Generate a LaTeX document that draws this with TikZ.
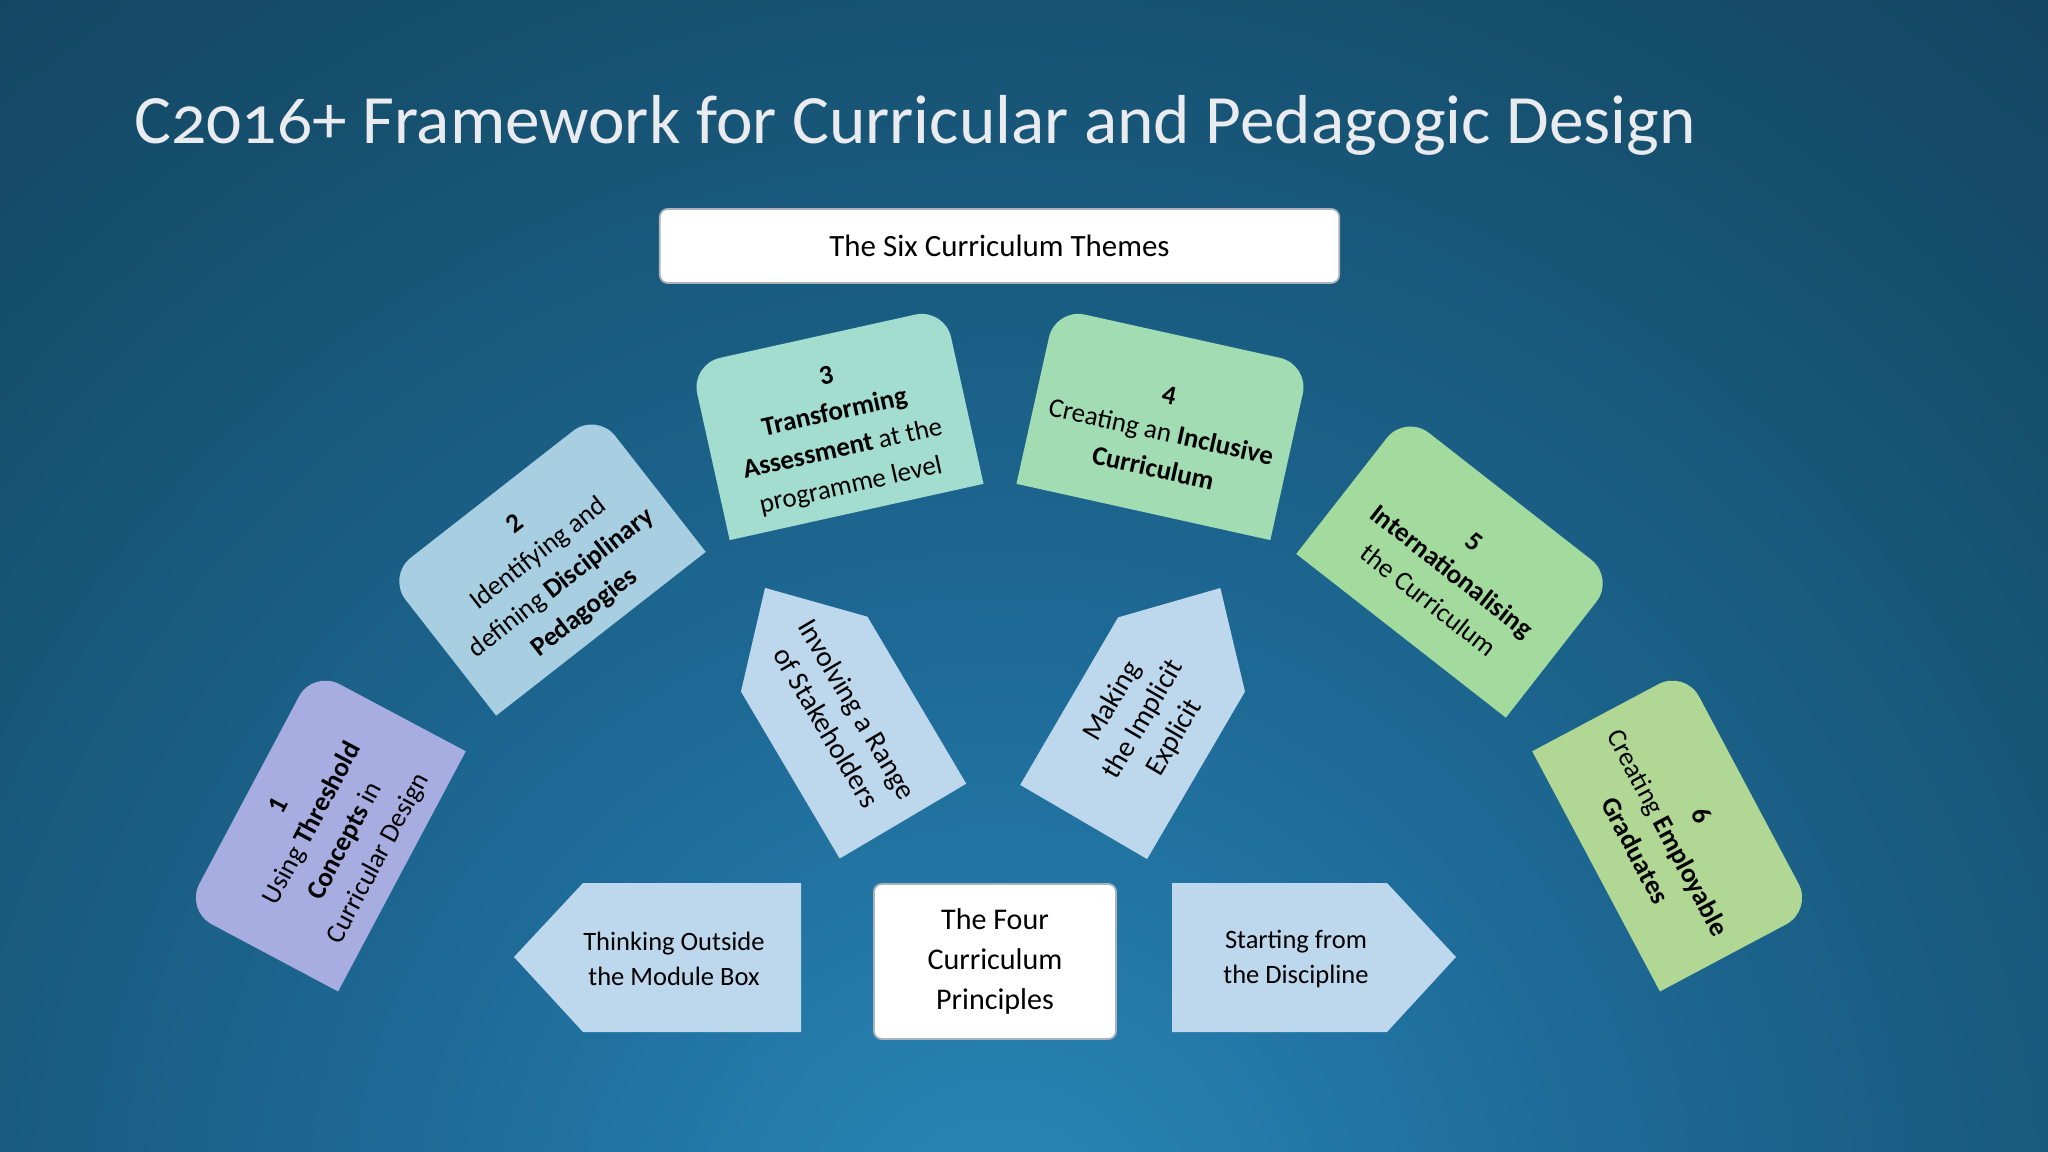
\documentclass[tikz,border=0pt]{standalone}
\usepackage{fontspec}
\setmainfont{Carlito}
\definecolor{bgout}{HTML}{12405C}
\definecolor{bgedge}{HTML}{123A52}
\definecolor{bgmid2}{HTML}{16506F}
\definecolor{bgmid}{HTML}{1E6B98}
\definecolor{bgin}{HTML}{2A88B8}
\definecolor{boxA}{HTML}{A7ADE0}
\definecolor{boxB}{HTML}{A8CFE1}
\definecolor{boxC}{HTML}{A3DDCF}
\definecolor{boxD}{HTML}{A2DCB3}
\definecolor{boxE}{HTML}{A3DB9F}
\definecolor{boxF}{HTML}{B1D795}
\definecolor{arrowcol}{HTML}{BDD7EC}
\definecolor{titlecol}{HTML}{E9EBEE}
\definecolor{wborder}{HTML}{A9B3BC}
\pgfdeclareradialshading{bgshade}{\pgfpoint{0bp}{0bp}}{color(0bp)=(bgin); color(8bp)=(bgmid); color(18bp)=(bgmid2); color(25bp)=(bgout); color(38bp)=(bgedge); color(50bp)=(bgedge)}
\tikzset{
  themetext/.style={align=center, inner sep=0pt, text=black, font=\fontsize{7.7pt}{10.6pt}\selectfont},
  arrowtext/.style={align=center, inner sep=0pt, text=black, font=\fontsize{7.54pt}{10pt}\selectfont},
  diagtext/.style={align=center, inner sep=0pt, text=black, font=\fontsize{8.2pt}{10.2pt}\selectfont},
  whitebox/.style={draw=wborder, line width=0.5pt, fill=white, rounded corners=0.08cm, align=center, text=black, inner sep=0pt},
  titletext/.style={text=titlecol, inner sep=0pt, font=\fontsize{19.7pt}{24pt}\selectfont\addfontfeatures{Numbers=OldStyle}},
}
% name, cx, cy (screen px), angle, width, colour, text, top edge
\newcommand{\ThemeBox}[8]{%
  \begin{scope}[shift={(#2,-#3)},rotate=#4]
    \fill[#6] ({-#5/2},-86) -- ({#5/2},-86) -- ({#5/2},{#8-30})
      arc[start angle=0,end angle=90,radius=30] -- ({-#5/2+30},#8)
      arc[start angle=90,end angle=180,radius=30] -- cycle;
    \node[themetext,rotate=#4] (#1) at (0,-4) {#7};
  \end{scope}}
\begin{document}
\begin{tikzpicture}[x=0.01cm,y=0.01cm]
\useasboundingbox (0,0) rectangle (2048,-1152);
\begin{scope}
  \clip (0,0) rectangle (2048,-1152);
  \fill[bgedge] (0,0) rectangle (2048,-1152);
  \shade[shading=bgshade] (1000,-1250) circle[radius=1800];
\end{scope}

\node[titletext, anchor=base west] (title) at (134,-144) {C2016+ Framework for Curricular and Pedagogic Design};

\node[whitebox, minimum width=6.79cm, minimum height=0.74cm, font=\fontsize{8.8pt}{10.5pt}\selectfont] (sixthemes) at (999.5,-246) {The Six Curriculum Themes};

\ThemeBox{t1}{326}{831}{62}{272}{boxA}{\textbf{1}\\Using \textbf{Threshold}\\\textbf{Concepts} in\\Curricular Design}{87}
\ThemeBox{t2}{548}{566}{38}{266}{boxB}{\textbf{2}\\Identifying and\\defining \textbf{Disciplinary}\\\textbf{Pedagogies}}{91}
\ThemeBox{t3}{838}{428}{12.5}{260}{boxC}{\textbf{3}\\\textbf{Transforming}\\\textbf{Assessment} at the\\programme level}{94}
\ThemeBox{t4}{1162}{428}{-12.5}{260}{boxD}{\textbf{4}\\Creating an \textbf{Inclusive}\\\textbf{Curriculum}}{94}
\ThemeBox{t5}{1454}{568}{-38}{266}{boxE}{\textbf{5}\\\textbf{Internationalising}\\the Curriculum}{91}
\ThemeBox{t6}{1672}{831}{-62}{272}{boxF}{\textbf{6}\\Creating \textbf{Employable}\\\textbf{Graduates}}{87}

% rotated principle arrows
\begin{scope}[shift={(834,-704.5)},rotate=-59.4]
  \fill[arrowcol] (-135.5,0) -- (-58.5,73.5) -- (135.5,73.5) -- (135.5,-73.5) -- (-58.5,-73.5) -- cycle;
  \node[diagtext,rotate=-59.4] (involving) at (16,0) {Involving a Range\\of Stakeholders};
\end{scope}
\begin{scope}[shift={(1152,-705)},rotate=59.7]
  \fill[arrowcol] (135.5,0) -- (58.5,73.5) -- (-135.5,73.5) -- (-135.5,-73.5) -- (58.5,-73.5) -- cycle;
  \node[diagtext,rotate=59.7] (making) at (-17,0) {Making\\the Implicit\\Explicit};
\end{scope}

% bottom row
\fill[arrowcol] (514,-957) -- (583,-883) -- (801,-883) -- (801,-1032) -- (583,-1032) -- cycle;
\node[arrowtext] (thinking) at (674,-959) {Thinking Outside\\the Module Box};
\fill[arrowcol] (1172,-883) -- (1387,-883) -- (1456,-957) -- (1387,-1032) -- (1172,-1032) -- cycle;
\node[arrowtext] (starting) at (1296,-959) {Starting from\\the Discipline};

\node[whitebox, minimum width=2.42cm, minimum height=1.55cm, font=\fontsize{8.55pt}{11.5pt}\selectfont] (fourprinciples) at (995,-961.5) {The Four\\Curriculum\\Principles};
\end{tikzpicture}
\end{document}
